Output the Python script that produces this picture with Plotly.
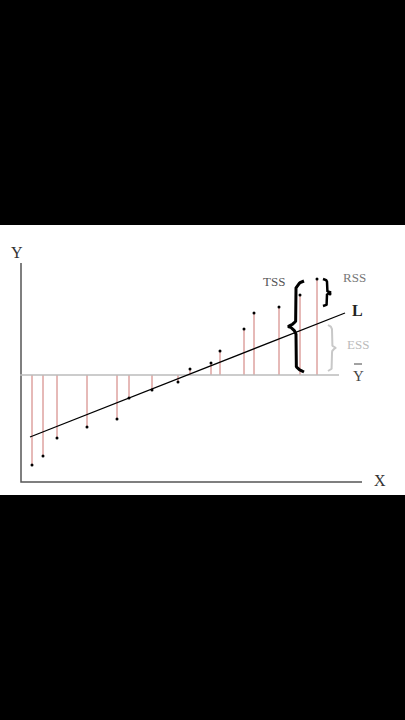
import numpy as np
import plotly.graph_objects as go

# observations (image-pixel units, y grows downward)
pts_x = [32, 43, 57, 87, 117, 129, 152, 178, 190, 211, 220, 244, 254, 279, 300, 317, 330]
pts_y = [465, 456, 438, 427, 419, 398, 390, 382, 369, 363, 351, 329, 313, 307, 295, 279, 294]
mean_y = 375
line_x = [30, 345]
line_y = [437, 313]


def brace(x0, y0, y1, w, left=True):
    # curly brace as polyline; tip points left for "{" and right for "}"
    t = np.linspace(0, 1, 60)
    mid = (y0 + y1) / 2
    ys, xs = [], []
    for half in (0, 1):
        a, b = (y0, mid) if half == 0 else (mid, y1)
        yy = a + (b - a) * t
        s = (yy - a) / (b - a)
        if half == 0:
            xx = w * (1 - 0.5 * np.clip(s / 0.15, 0, 1) ** 0.5) - 0.5 * w * np.clip((s - 0.85) / 0.15, 0, 1) ** 2
        else:
            xx = 0.5 * w * np.clip(s / 0.15, 0, 1) ** 0.5 + 0.5 * w * np.clip((s - 0.85) / 0.15, 0, 1) ** 2
        xs += list(xx); ys += list(yy)
    xs = np.array(xs)
    if left:
        return x0 + xs, ys
    return x0 + (w - xs), ys


fig = go.Figure()
fig.add_shape(type="rect", x0=0, x1=405, y0=225, y1=495, fillcolor="white", line_width=0, layer="below")

# deviations to the mean
for x, y in zip(pts_x, pts_y):
    if x == 330:
        continue
    fig.add_trace(go.Scatter(x=[x, x], y=[y, mean_y], mode="lines",
                             line=dict(color="#c0504d", width=0.8), hoverinfo="skip"))

# axes
fig.add_trace(go.Scatter(x=[21, 21, 362], y=[263, 482, 482], mode="lines",
                         line=dict(color="#555", width=1.5)))
# mean line
fig.add_trace(go.Scatter(x=[20, 339], y=[mean_y, mean_y], mode="lines",
                         line=dict(color="#bbb", width=1.5)))
# regression line
fig.add_trace(go.Scatter(x=line_x, y=line_y, mode="lines", line=dict(color="black", width=1.3)))
# points
fig.add_trace(go.Scatter(x=pts_x, y=pts_y, mode="markers", marker=dict(color="black", size=3)))

# braces
bx, by = brace(288, 281, 372, 16, left=True)
fig.add_trace(go.Scatter(x=bx, y=by, mode="lines", line=dict(color="black", width=3)))
bx, by = brace(323, 279, 306, 8, left=False)
fig.add_trace(go.Scatter(x=bx, y=by, mode="lines", line=dict(color="black", width=2.5)))
bx, by = brace(328, 325, 371, 8, left=False)
fig.add_trace(go.Scatter(x=bx, y=by, mode="lines", line=dict(color="#c8c8c8", width=2)))

labels = [("Y", 17, 252, "#333", 16), ("X", 380, 480, "#333", 16), ("TSS", 274, 281, "#555", 13),
          ("RSS", 354, 277, "#777", 13), ("<b>L</b>", 357, 310, "#222", 16),
          ("ESS", 358, 344, "#bbb", 13), ("Y", 358, 376, "#444", 15)]
for txt, x, y, c, s in labels:
    fig.add_annotation(x=x, y=y, text=txt, showarrow=False,
                       font=dict(family="Liberation Serif", color=c, size=s))
fig.add_shape(type="line", x0=354, x1=362, y0=364, y1=364, line=dict(color="#444", width=1))

fig.update_layout(width=405, height=720, margin=dict(l=0, r=0, t=0, b=0),
                  paper_bgcolor="black", plot_bgcolor="black", showlegend=False,
                  xaxis=dict(range=[0, 405], visible=False),
                  yaxis=dict(range=[720, 0], visible=False))
fig.write_html("out.html", config={"displayModeBar": False},
               post_script="document.body.style.margin='0';document.body.style.background='black';")
